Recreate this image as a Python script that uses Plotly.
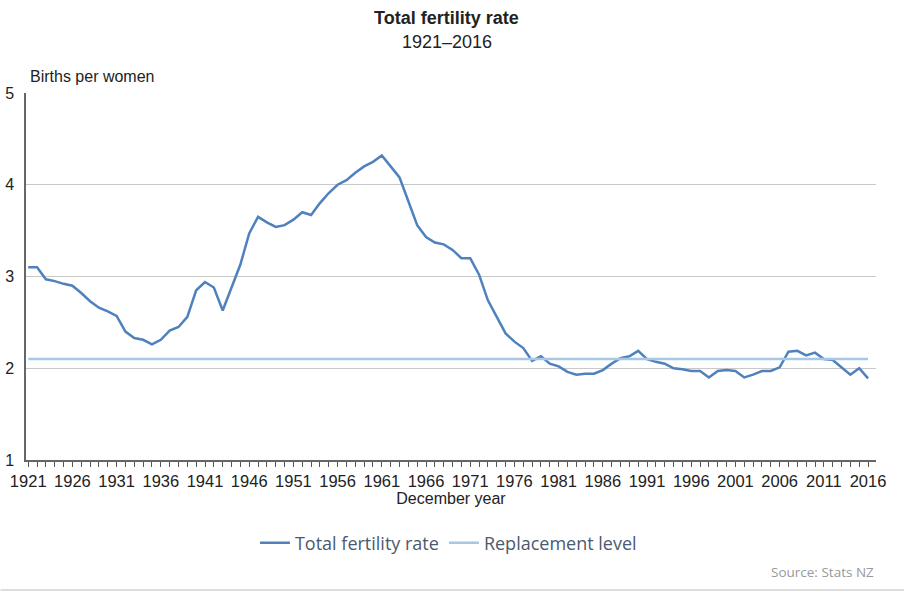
import plotly.graph_objects as go

years = list(range(1921, 2017))
tfr = [3.10, 3.10, 2.97, 2.95, 2.92, 2.90, 2.82, 2.73, 2.66, 2.62,
       2.57, 2.40, 2.33, 2.31, 2.26, 2.31, 2.41, 2.45, 2.56, 2.85,
       2.94, 2.88, 2.63, 2.87, 3.13, 3.47, 3.65, 3.59, 3.54, 3.56,
       3.62, 3.70, 3.67, 3.80, 3.91, 4.00, 4.05, 4.13, 4.20, 4.25,
       4.32, 4.20, 4.08, 3.82, 3.56, 3.43, 3.37, 3.35, 3.29, 3.20,
       3.20, 3.02, 2.74, 2.56, 2.38, 2.29, 2.22, 2.08, 2.13, 2.05,
       2.02, 1.96, 1.93, 1.94, 1.94, 1.98, 2.05, 2.11, 2.13, 2.19,
       2.10, 2.07, 2.05, 2.00, 1.99, 1.97, 1.97, 1.90, 1.97, 1.98,
       1.97, 1.90, 1.93, 1.97, 1.97, 2.01, 2.18, 2.19, 2.14, 2.17,
       2.10, 2.09, 2.01, 1.93, 2.00, 1.89]
replacement = [2.1] * len(years)
tick_years = list(range(1921, 2017, 5))

FONT = "Liberation Sans, Arial, sans-serif"

fig = go.Figure()
fig.add_trace(go.Scatter(x=years, y=tfr, mode="lines", name="Total fertility rate",
                         line=dict(color="#4f81bd", width=2.5)))
fig.add_trace(go.Scatter(x=years, y=replacement, mode="lines", name="Replacement level",
                         line=dict(color="#a8c6e6", width=2.5)))

fig.update_layout(
    width=904, height=592,
    margin=dict(l=26, r=28, t=93, b=132),
    paper_bgcolor="white", plot_bgcolor="white",
    font=dict(family=FONT, size=16, color="#222"),
    showlegend=True,
    legend=dict(orientation="h", x=0.497, xanchor="center", y=-0.226, yanchor="middle",
                font=dict(family="Open Sans, sans-serif", size=18, color="#4a5a70"),
                itemwidth=30),
    xaxis=dict(range=[1920.75, 2016.9], tickmode="array", tickvals=tick_years,
               ticktext=[str(y) for y in tick_years], automargin=False,
               ticks="outside", ticklen=5, tickcolor="#555", tickwidth=1,
               minor=dict(dtick=1, tick0=1921, ticks="outside", ticklen=5, tickcolor="#555"),
               showline=True, linecolor="#666", linewidth=1.5, showgrid=False, zeroline=False,
               tickfont=dict(family=FONT, size=16.5, color="#222"),
               title=dict(text="December year", font=dict(family=FONT, size=16, color="#222"),
                          standoff=0)),
    yaxis=dict(range=[1, 5], dtick=1, showline=True, linecolor="#666", linewidth=1.5,
               showgrid=True, gridcolor="#c8c8c8", gridwidth=1, zeroline=False,
               automargin=False, ticks="", ticklabelstandoff=7,
               tickfont=dict(family=FONT, size=16, color="#222")),
)

fig.add_annotation(text="<b>Total fertility rate</b>", xref="paper", yref="paper",
                   x=0.495, y=1.2044, xanchor="center", yanchor="middle", showarrow=False,
                   font=dict(family=FONT, size=18, color="#222"))
fig.add_annotation(text="1921–2016", xref="paper", yref="paper",
                   x=0.495, y=1.139, xanchor="center", yanchor="middle", showarrow=False,
                   font=dict(family=FONT, size=18, color="#222"))
fig.add_annotation(text="Births per women", xref="paper", yref="paper", x=0.0024, y=1.0436,
                   xanchor="left", yanchor="middle", showarrow=False,
                   font=dict(family=FONT, size=16, color="#222"))
fig.add_annotation(text="Source: Stats NZ", xref="paper", yref="paper", x=1, y=-0.305,
                   xanchor="right", yanchor="middle", showarrow=False,
                   font=dict(family="Open Sans, sans-serif", size=13.5, color="#999"))
fig.add_shape(type="line", xref="paper", yref="paper", x0=-0.03, x1=1.04, y0=-0.354, y1=-0.354,
              line=dict(color="#ddd", width=2))

fig.write_html("out.html")
